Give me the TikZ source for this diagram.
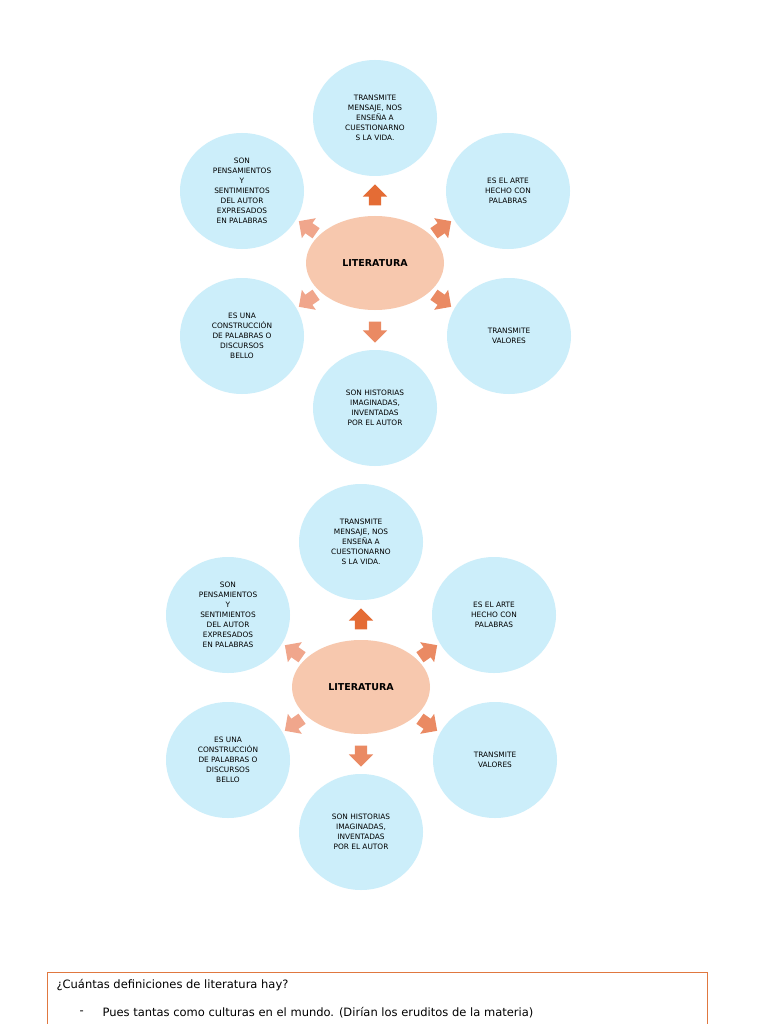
\documentclass[tikz,border=0pt]{standalone}
\usepackage{fontspec}
\setmainfont{DejaVu Sans}
\usetikzlibrary{shapes.arrows,shapes.geometric}
\definecolor{idea}{HTML}{CCEEFA}
\definecolor{core}{HTML}{F7C8AE}
\definecolor{arrowdark}{HTML}{E46C35}
\definecolor{arrowmid}{HTML}{EA8A63}
\definecolor{arrowlight}{HTML}{F0A68C}
\definecolor{frame}{HTML}{E07840}
\tikzset{
  idea/.style={ellipse, fill=idea, minimum width=124pt, minimum height=116pt, align=center, font=\fontsize{7.4pt}{10pt}\selectfont, inner sep=0pt},
  core/.style={ellipse, fill=core, minimum width=138pt, minimum height=94pt, font=\bfseries\fontsize{9.5pt}{10pt}\selectfont},
  blockarrow/.style={single arrow, draw=none, fill=#1, minimum height=21pt, minimum width=24pt, single arrow head extend=6pt, inner xsep=0pt, inner ysep=6pt}
}
\begin{document}
\begin{tikzpicture}[x=1pt,y=-1pt]
    \useasboundingbox (0,0) rectangle (768,1024);
    \fill[white] (0,0) rectangle (768,1024);
    \foreach \dx/\dy/\n in {0/0/a, -14/424/b} {
    \begin{scope}[shift={(\dx,\dy)}]
    \node [core] (lit_\n) at (375,263) {LITERATURA};
    \node [idea] (mensaje_\n) at (375,118) {TRANSMITE\\MENSAJE, NOS\\ENSEÑA A\\CUESTIONARNO\\S LA VIDA.};
    \node [idea] (arte_\n) at (508,191) {ES EL ARTE\\HECHO CON\\PALABRAS};
    \node [idea] (valores_\n) at (509,336) {TRANSMITE\\VALORES};
    \node [idea] (historias_\n) at (375,408) {SON HISTORIAS\\IMAGINADAS,\\INVENTADAS\\POR EL AUTOR};
    \node [idea] (construccion_\n) at (242,336) {ES UNA\\CONSTRUCCIÓN\\DE PALABRAS O\\DISCURSOS\\BELLO};
    \node [idea] (pensamientos_\n) at (242,191) {SON\\PENSAMIENTOS\\Y\\SENTIMIENTOS\\DEL AUTOR\\EXPRESADOS\\EN PALABRAS};

    \node [blockarrow=arrowdark, rotate=90] (up_\n) at (375,198) {};
    \node [blockarrow=arrowmid, rotate=35] (ne_\n) at (440,229) {};
    \node [blockarrow=arrowmid, rotate=-35] (se_\n) at (440,299) {};
    \node [blockarrow=arrowmid, rotate=-90] (down_\n) at (375,329) {};
    \node [blockarrow=arrowlight, rotate=-145] (sw_\n) at (310,299) {};
    \node [blockarrow=arrowlight, rotate=145] (nw_\n) at (310,229) {};
    \end{scope}
    }

    \draw[frame, line width=0.8pt] (47,1030) -- (47,972.5) -- (707,972.5) -- (707,1030);
    \node [anchor=west, font=\fontsize{11.5pt}{13pt}\selectfont] (question) at (53,985) {¿Cuántas definiciones de literatura hay?};
    \node [anchor=west, font=\fontsize{11.5pt}{13pt}\selectfont] (dash) at (76,1013) {-};
    \node [anchor=west, font=\fontsize{11.5pt}{13pt}\selectfont] (answer) at (99,1013) {Pues tantas como culturas en el mundo. (Dirían los eruditos de la materia)};
\end{tikzpicture}
\end{document}
